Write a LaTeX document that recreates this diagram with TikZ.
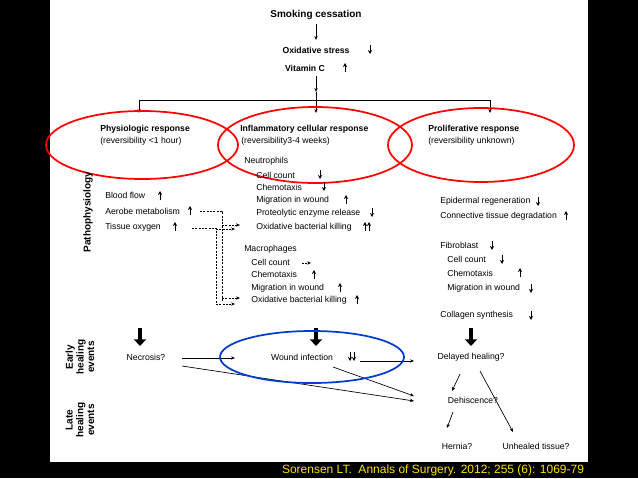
\documentclass[tikz,border=0pt]{standalone}
\usepackage{fontspec}
\setmainfont{Liberation Sans}
\usetikzlibrary{arrows.meta}
\begin{document}
\begin{tikzpicture}[x=0.75pt,y=-0.75pt,
 t/.style={font=\fontsize{6.5}{7}\selectfont,anchor=west,inner sep=0pt},
 tb/.style={t,font=\fontsize{6.5}{7}\selectfont\bfseries},
 a/.style={-{Stealth[length=3pt,width=2.5pt]},line width=0.5pt},
 up/.style={-{Stealth[length=3pt,width=3pt]},line width=0.6pt},
 da/.style={a,dashed,dash pattern=on 1.5pt off 1pt},
 big/.style={-{Triangle[length=5pt,width=9pt]},line width=3pt},
 rot/.style={font=\fontsize{7.5}{8}\selectfont\bfseries,rotate=90,align=center,inner sep=0pt}]
\useasboundingbox (0,0) rectangle (638,478);
\fill[black] (0,0) rectangle (638,478);
\fill[white] (50,0) rectangle (588,462);
% top chain
\node[tb,anchor=center,font=\fontsize{7.5}{8}\selectfont\bfseries] (sc) at (316,15) {Smoking cessation};
\node[tb,anchor=center] (os) at (316,50) {Oxidative stress};
\node[tb,anchor=center] (vc) at (305,68) {Vitamin C};
\draw[a] (316,24) -- (316,40);
\draw[up] (370,45) -- (370,54);
\draw[up] (345,72) -- (345,63);
\coordinate (j) at (316,92);
\draw[a] (316,76) -- (j);
\draw (316,92) -- (316,100) (139,100) -- (490,100);
\draw[a] (139,100) -- (139,113);
\draw[a] (316,100) -- (316,113);
\draw[a] (490,100) -- (490,113);
% headers
\node[tb] (ph) at (100,129) {Physiologic response};
\node[t] at (100,141) {(reversibility <1 hour)};
\node[tb] (inf) at (240,129) {Inflammatory cellular response};
\node[t] at (241,141) {(reversibility3-4 weeks)};
\node[tb] (pro) at (428,129) {Proliferative response};
\node[t] at (428,141) {(reversibility unknown)};
\draw[red,line width=1.3pt] (142,145) ellipse (96 and 34);
\draw[red,line width=1.3pt] (315,145) ellipse (97 and 38);
\draw[red,line width=1.3pt] (481,145) ellipse (93 and 37);
\node[rot] at (88,212) {Pathophysiology};
% left
\node[t] at (105,195) {Blood flow};
\node[t] at (105,211) {Aerobe metabolism};
\node[t] at (105,227) {Tissue oxygen};
\draw[up] (160,200)--(160,191); \draw[up] (190,215)--(190,206); \draw[up] (175,231)--(175,222);
% neutrophils
\node[t] at (244,161) {Neutrophils};
\node[t] at (256,175) {Cell count};
\node[t] at (256,187) {Chemotaxis};
\node[t] at (256,200) {Migration in wound};
\node[t] at (256,213) {Proteolytic enzyme release};
\node[t] at (256,227) {Oxidative bacterial killing};
\draw[up] (320,170)--(320,179); \draw[up] (324,182)--(324,191); \draw[up] (346,204)--(346,195);
\draw[up] (372,208)--(372,217); \draw[up] (365,231)--(365,222); \draw[up] (369,231)--(369,222);
% dashed
\draw[dashed,dash pattern=on 1.5pt off 1pt,line width=0.5pt] (200,211)--(222,211)--(222,302);
\draw[dashed,dash pattern=on 1.5pt off 1pt,line width=0.5pt] (192,228)--(216,228)--(216,304);
\draw[da] (222,225)--(240,225); \draw[da] (216,229)--(235,229);
\draw[da] (222,298)--(240,298); \draw[da] (216,304)--(235,304);
% macrophages
\node[t] at (244,249) {Macrophages};
\node[t] at (251,262) {Cell count};
\node[t] at (251,274) {Chemotaxis};
\node[t] at (251,288) {Migration in wound};
\node[t] at (251,300) {Oxidative bacterial killing};
\draw[da] (302,263)--(311,263);
\draw[up] (314,279)--(314,270); \draw[up] (340,292)--(340,283); \draw[up] (357,304)--(357,295);
% right
\node[t] at (440,201) {Epidermal regeneration};
\node[t] at (440,216) {Connective tissue degradation};
\node[t] at (440,245) {Fibroblast};
\node[t] at (447,259) {Cell count};
\node[t] at (447,273) {Chemotaxis};
\node[t] at (447,288) {Migration in wound};
\node[t] at (440,315) {Collagen synthesis};
\draw[up] (538,197)--(538,206); \draw[up] (566,220)--(566,211);
\draw[up] (492,241)--(492,250); \draw[up] (502,255)--(502,264);
\draw[up] (520,277)--(520,268); \draw[up] (531,284)--(531,293); \draw[up] (531,311)--(531,320);
% healing
\draw[big] (140,328)--(140,346); \draw[big] (316,328)--(316,346); \draw[big] (471,328)--(471,346);
\node[rot] at (80,357) {Early\\healing\\events};
\node[rot] at (80,420) {Late\\healing\\events};
\node[t,anchor=center] (nec) at (146,357) {Necrosis?};
\node[t,anchor=center] (wi) at (302,357) {Wound infection};
\node[t,anchor=center] (dh) at (471,357) {Delayed healing?};
\node[t,anchor=center] (de) at (473,400) {Dehiscence?};
\node[t,anchor=center] (he) at (457,446) {Hernia?};
\node[t,anchor=center] (ut) at (536,446) {Unhealed tissue?};
\draw[up] (350,352)--(350,361); \draw[up] (354,352)--(354,361);
\draw[a] (182,358)--(235,358);
\draw[a] (360,361)--(414,361);
\draw[a] (182,366)--(414,401);
\draw[a] (333,367)--(414,396);
\draw[a] (460,374)--(452,391);
\draw[a] (480,371)--(513,432);
\draw[a] (453,412)--(447,428);
\draw[blue!70!cyan!80!black,line width=1.3pt] (312,357) ellipse (92 and 26);
\node[font=\fontsize{9}{10}\selectfont,text=yellow!85!orange,inner sep=0pt] at (433,470) {Sorensen LT.\ \ Annals of Surgery. 2012; 255 (6): 1069-79};
\end{tikzpicture}
\end{document}
